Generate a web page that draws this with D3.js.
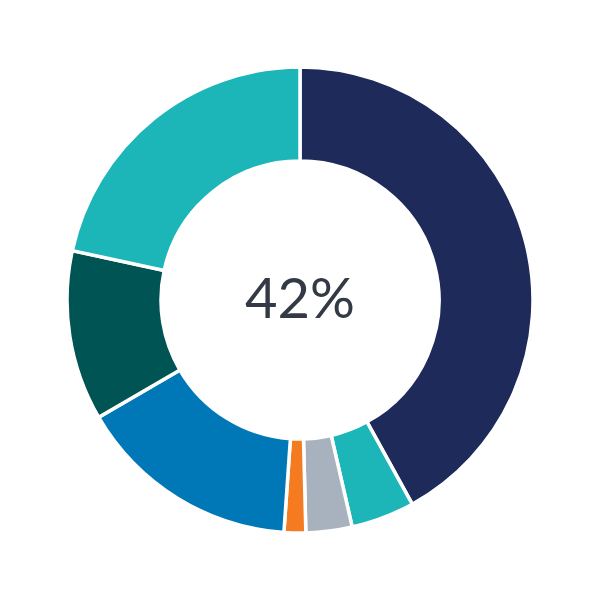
<!DOCTYPE html>
<html>
<head>
    <meta charset="utf-8">
    <title>donut</title>
    <style>
        body { margin: 0; background: #fff; }
    </style>
</head>
<body>
<main></main>
<script src="https://cdn.jsdelivr.net/npm/d3@7"></script>
<script>
    // data, clockwise from 12 o'clock
    var categories = ["A", "B", "C", "D", "E", "F", "G"];
    var values = [42, 4.4, 3.2, 1.5, 15.5, 11.8, 21.6];
    var colors = ["#1d2a5a", "#1cb5b8", "#a8b2bf", "#f47b20", "#0077b6", "#005454", "#1cb5b8"];
    var centerLabel = "42%";

    var width = 600;
    var height = 600;
    var svg = d3.select("main")
        .append("svg")
        .attr("width", width)
        .attr("height", height);

    var g = svg.append("g")
        .attr("transform", "translate(300,300)");

    var pie = d3.pie()
        .sort(null)
        .value(function (d, i) { return values[i]; });

    var arc = d3.arc()
        .innerRadius(139)
        .outerRadius(233);

    g.selectAll("path")
        .data(pie(categories))
        .enter()
        .append("path")
        .attr("d", arc)
        .attr("fill", function (d, i) { return colors[i]; })
        .attr("stroke", "#fff")
        .attr("stroke-width", 3.5);

    // center value
    g.append("text")
        .attr("text-anchor", "middle")
        .attr("y", 18)
        .attr("font-family", "Lato, 'Open Sans', sans-serif")
        .attr("font-size", 56)
        .attr("fill", "#333a45")
        .text(centerLabel);
</script>
</body>
</html>
